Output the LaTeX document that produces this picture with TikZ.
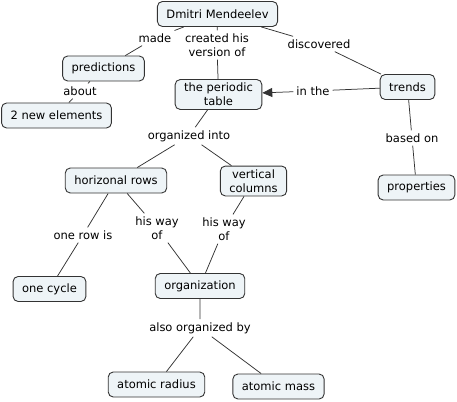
\documentclass[tikz,border=0pt]{standalone}
\usepackage{fontspec}
\setmainfont{DejaVu Sans}
\usetikzlibrary{arrows.meta}
\definecolor{boxfill}{HTML}{EEF4F7}
\definecolor{ink}{HTML}{333333}
\tikzset{
    concept/.style={draw=ink, fill=boxfill, rounded corners=5pt, line width=0.9pt,
        align=center, inner xsep=9pt, inner ysep=3.5pt, minimum height=25pt,
        text=black, font=\fontsize{11.5}{14}\selectfont},
    linkword/.style={align=center, inner sep=3pt, text=black,
        font=\fontsize{11.5}{14}\selectfont},
    link/.style={draw=ink, line width=0.75pt}
}
\begin{document}
\begin{tikzpicture}[x=1pt, y=-1pt]

    % Canvas, pixel units, y pointing down
    \useasboundingbox (0,0) rectangle (457,401);

    % Concepts
    \node[concept] (dm) at (217.5,14) {Dmitri Mendeelev};
    \node[concept] (pred) at (103.5,68.5) {predictions};
    \node[concept] (newel) at (56.5,115.5) {2 new elements};
    \node[concept] (ptable) at (218.5,94.5) {the periodic\\table};
    \node[concept] (trends) at (407.5,87) {trends};
    \node[concept] (props) at (416.5,187.5) {properties};
    \node[concept] (hrows) at (116,180.5) {horizonal rows};
    \node[concept] (vcols) at (253.5,181) {vertical\\columns};
    \node[concept] (cycle) at (49.5,289) {one cycle};
    \node[concept] (org) at (200,286) {organization};
    \node[concept] (radius) at (156.5,384.5) {atomic radius};
    \node[concept] (mass) at (278.5,386.5) {atomic mass};

    % Linking words
    \node[linkword] (made) at (155,38) {made};
    \node[linkword] (created) at (217,45) {created his\\version of};
    \node[linkword] (disc) at (319,44) {discovered};
    \node[linkword] (about) at (80,91) {about};
    \node[linkword] (inthe) at (313,91) {in the};
    \node[linkword] (based) at (412,138) {based on};
    \node[linkword] (orginto) at (189,136) {organized into};
    \node[linkword] (onerow) at (83,235) {one row is};
    \node[linkword] (wayh) at (157,228) {his way\\of};
    \node[linkword] (wayv) at (224,229) {his way\\of};
    \node[linkword] (alsoby) at (200,328) {also organized by};

    % Connections
    \draw[link] (dm) -- (made) -- (pred);
    \draw[link] (dm) -- (created) -- (ptable);
    \draw[link] (dm) -- (disc) -- (trends);
    \draw[link] (pred) -- (about) -- (newel);
    \draw[link] (trends) -- (inthe);
    \draw[link, -{Triangle[length=10pt, width=9pt]}] (inthe) -- (ptable);
    \draw[link] (trends) -- (based) -- (props);
    \draw[link] (ptable) -- (orginto) -- (hrows);
    \draw[link] (orginto) -- (vcols);
    \draw[link] (hrows) -- (onerow) -- (cycle);
    \draw[link] (hrows) -- (wayh) -- (org);
    \draw[link] (vcols) -- (wayv) -- (org);
    \draw[link] (org) -- (alsoby) -- (radius);
    \draw[link] (alsoby) -- (mass);

\end{tikzpicture}
\end{document}
